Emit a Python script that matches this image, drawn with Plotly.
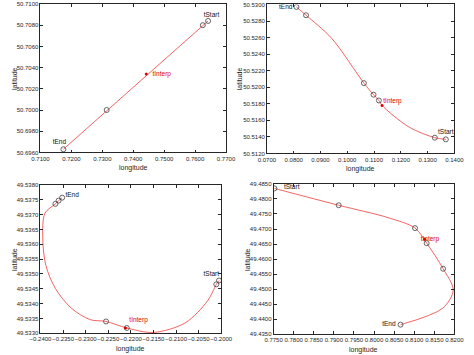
import plotly.graph_objects as go

# ---------------- data ----------------
# Panel 1 (top-left)
p1_track_lon = [0.7174, 0.7642]
p1_track_lat = [50.6963, 50.7084]
p1_pts_lon = [0.7174, 0.7314, 0.7625, 0.7642]
p1_pts_lat = [50.6963, 50.7000, 50.7080, 50.7084]
p1_interp = (0.7442, 50.7034)

# Panel 2 (top-right)
p2_track_lon = [0.0810, 0.0846, 0.0942, 0.1062, 0.1098, 0.1118, 0.1130, 0.1230, 0.1327, 0.1368]
p2_track_lat = [50.5297, 50.5287, 50.5259, 50.5205, 50.5191, 50.5184, 50.5178, 50.5152, 50.5139, 50.5137]
p2_pts_lon = [0.0810, 0.0846, 0.1062, 0.1098, 0.1118, 0.1327, 0.1368]
p2_pts_lat = [50.5297, 50.5287, 50.5205, 50.5191, 50.5184, 50.5139, 50.5137]
p2_interp = (0.1130, 50.5178)

# Panel 3 (bottom-left)
p3_track_lon = [-0.2352, -0.2360, -0.2367, -0.2390, -0.2395, -0.2388, -0.2367, -0.2332,
                -0.2290, -0.2255, -0.2209, -0.2150, -0.2080, -0.2030, -0.2011, -0.2005]
p3_track_lat = [49.53757, 49.53747, 49.53736, 49.53705, 49.5362, 49.53528, 49.53451, 49.53385,
                49.53346, 49.5334, 49.53318, 49.53303, 49.53335, 49.53410, 49.53465, 49.53478]
p3_pts_lon = [-0.2367, -0.2360, -0.2352, -0.2255, -0.2209, -0.2011, -0.2005]
p3_pts_lat = [49.53736, 49.53747, 49.53757, 49.5334, 49.53318, 49.53465, 49.53478]
p3_interp = (-0.2212, 49.53318)

# Panel 4 (bottom-right)
p4_track_lon = [0.7752, 0.7912, 0.8037, 0.8102, 0.8131, 0.8172, 0.8197, 0.8171, 0.8066]
p4_track_lat = [49.4835, 49.4779, 49.4737, 49.4703, 49.4653, 49.4568, 49.4497, 49.4437, 49.4382]
p4_pts_lon = [0.7752, 0.7912, 0.8102, 0.8131, 0.8172, 0.8066]
p4_pts_lat = [49.4835, 49.4779, 49.4703, 49.4653, 49.4568, 49.4382]
p4_interp = (0.8126, 49.4666)

# labels: (text, lon, lat)
p1_labels = [("tStart", 0.7653, 50.7089), ("tEnd", 0.7161, 50.6969), ("tInterp", 0.7492, 50.7034)]
p2_labels = [("tStart", 0.1368, 50.5146), ("tEnd", 0.0770, 50.5296), ("tInterp", 0.1169, 50.5183)]
p3_labels = [("tStart", -0.2022, 49.53498), ("tEnd", -0.2330, 49.53764), ("tInterp", -0.2183, 49.53344)]
p4_labels = [("tStart", 0.7795, 49.4840), ("tEnd", 0.8037, 49.4382), ("tInterp", 0.8139, 49.4666)]

# line shape per panel
shapes = ["linear", "spline", "spline", "spline"]

# axis ranges and tick steps
ranges = [
    ((0.71, 0.77), 0.01, (50.696, 50.71), 0.002),
    ((0.07, 0.14), 0.01, (50.512, 50.53), 0.002),
    ((-0.24, -0.20), 0.005, (49.533, 49.538), 0.0005),
    ((0.775, 0.82), 0.005, (49.435, 49.485), 0.005),
]

W, H = 474, 355
# plot boxes in pixels: left, right, top, bottom
boxes = [(31, 226, 1, 152), (269, 466, 1.5, 153), (31, 221, 185, 336), (276, 466, 184, 337)]

panels = [
    (p1_track_lon, p1_track_lat, p1_pts_lon, p1_pts_lat, p1_interp, p1_labels),
    (p2_track_lon, p2_track_lat, p2_pts_lon, p2_pts_lat, p2_interp, p2_labels),
    (p3_track_lon, p3_track_lat, p3_pts_lon, p3_pts_lat, p3_interp, p3_labels),
    (p4_track_lon, p4_track_lat, p4_pts_lon, p4_pts_lat, p4_interp, p4_labels),
]

fig = go.Figure()
FONT = "Liberation Sans, Arial, sans-serif"
layout = dict(width=W, height=H, margin=dict(l=0, r=0, t=0, b=0),
              paper_bgcolor="white", plot_bgcolor="white", showlegend=False,
              font=dict(family=FONT, size=6, color="#262626"))
annotations = []

for i, (tlon, tlat, plon, plat, interp, labels) in enumerate(panels):
    n = i + 1
    xa = "x" if n == 1 else f"x{n}"
    ya = "y" if n == 1 else f"y{n}"
    l, r, t, b = boxes[i]
    (xr, dx, yr, dy) = ranges[i]
    axcommon = dict(showgrid=False, zeroline=False, showline=True, linecolor="#262626",
                    linewidth=0.8, mirror="ticks", ticks="inside", ticklen=3,
                    tickcolor="#262626", tickwidth=0.8, tickformat=".4f", tickangle=0,
                    tickfont=dict(family=FONT, size=6, color="#262626"))
    layout["xaxis" if n == 1 else f"xaxis{n}"] = dict(
        axcommon, domain=[l / W, r / W], range=list(xr), dtick=dx, tick0=xr[0],
        anchor=ya)
    layout["yaxis" if n == 1 else f"yaxis{n}"] = dict(
        axcommon, domain=[1 - b / H, 1 - t / H], range=list(yr), dtick=dy, tick0=yr[0],
        anchor=xa)
    fig.add_trace(go.Scatter(x=tlon, y=tlat, mode="lines", xaxis=xa, yaxis=ya,
                             line=dict(color="#f03c3c", width=0.8, shape=shapes[i],
                                       **({"smoothing": 0.9} if shapes[i] == "spline" else {})),
                             hoverinfo="skip"))
    fig.add_trace(go.Scatter(x=plon, y=plat, mode="markers", xaxis=xa, yaxis=ya,
                             marker=dict(symbol="circle-open", size=5, color="#404040",
                                         line=dict(width=0.8))))
    fig.add_trace(go.Scatter(x=[interp[0]], y=[interp[1]], mode="markers", xaxis=xa, yaxis=ya,
                             marker=dict(symbol="circle", size=3, color="#e00000")))
    for (txt, lx, ly) in labels:
        red = txt == "tInterp"
        fig.add_trace(go.Scatter(x=[lx], y=[ly], mode="text", text=[txt], xaxis=xa, yaxis=ya,
                                 textposition="middle center",
                                 textfont=dict(family=FONT, size=6.5,
                                               color="#e00000" if red else "#111111")))
    # axis titles
    annotations.append(dict(text="longitude", x=(l + r) / 2 / W, y=1 - (b + 16) / H,
                            xref="paper", yref="paper", showarrow=False,
                            font=dict(family=FONT, size=7, color="#262626"),
                            xanchor="center", yanchor="middle"))
    annotations.append(dict(text="latitude", x=(l - 28) / W, y=1 - (t + b) / 2 / H,
                            xref="paper", yref="paper", showarrow=False, textangle=-90,
                            font=dict(family=FONT, size=7, color="#262626"),
                            xanchor="center", yanchor="middle"))

layout["annotations"] = annotations
fig.update_layout(**layout)
fig.write_html("out.html")
